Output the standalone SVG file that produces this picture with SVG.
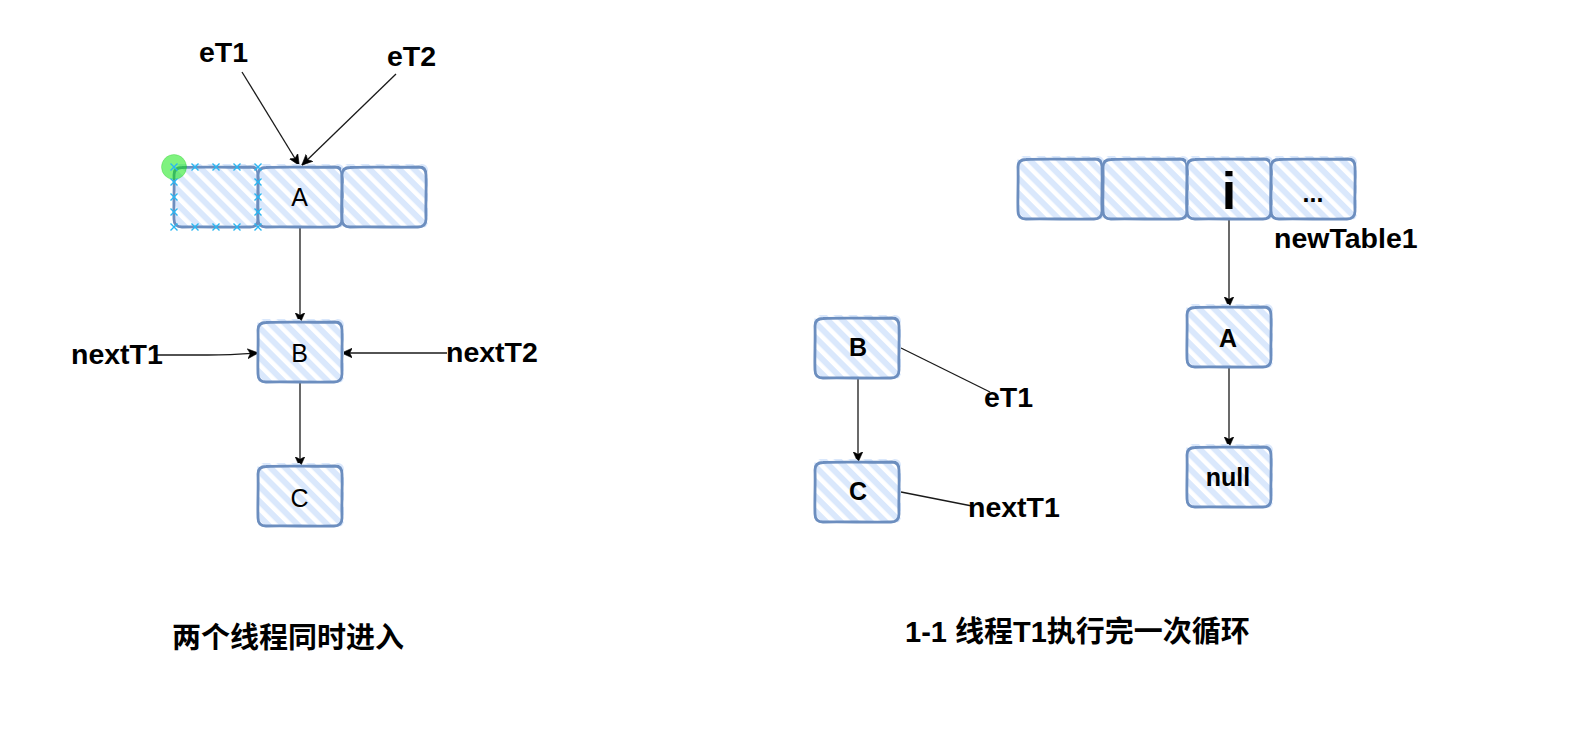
<svg xmlns="http://www.w3.org/2000/svg" xmlns:xlink="http://www.w3.org/1999/xlink" width="1578" height="755" viewBox="0 0 1578 755">
<style>
.f{fill:url(#hatch);stroke:none}
.b{fill:none;stroke:#6c8ebf;stroke-width:2.8;stroke-linejoin:round;stroke-linecap:round}
.c{fill:none;stroke:#1a1a1a;stroke-width:1.3;marker-end:url(#arr)}
.l{fill:none;stroke:#1a1a1a;stroke-width:1.3}
text{font-family:"Liberation Sans","Noto Sans CJK SC",sans-serif;fill:#000}
.n{font-size:25px;text-anchor:middle}
.nb{font-size:25px;font-weight:700;text-anchor:middle}
.t{font-size:28.500px;font-weight:700}
.cap{font-size:29px;font-weight:700}
.x{fill:none;stroke:#29b6f2;stroke-width:1.4}
</style>
<defs>
<pattern id="hatch" width="10.500" height="10.500" patternUnits="userSpaceOnUse" patternTransform="rotate(45)">
<rect x="0" y="0" width="10.500" height="6" fill="#dae8fc"/>
</pattern>
<marker id="arr" viewBox="0 0 10 10" refX="9.500" refY="5" markerWidth="11" markerHeight="11" markerUnits="userSpaceOnUse" orient="auto">
<path d="M0 0.500 L10 5 L0 9.500 L2.500 5 Z" fill="#000" stroke="#000" stroke-width="0.500"/>
</marker>
<g id="box">
<rect class="f" x="-1" y="-3" width="87" height="64" rx="6"/>
<path class="b" d="M8 0.500 C30 -0.500 55 0.800 77 0 Q84 0 84 8 C84.500 22 83.500 38 84 52 Q84 60 76 60 C55 60.500 28 59.500 8 60 Q0 60 0 52 C-0.500 38 0.500 22 0 8 Q0 0.500 8 0.500 Z"/>
</g>
<path id="xm" class="x" d="M-3.500 -3.500 L3.500 3.500 M-3.500 3.500 L3.500 -3.500"/>
</defs>
<rect width="1578" height="755" fill="#fff"/>
<g id="connectors">
<path class="c" d="M242 72 L299 165"/>
<path class="c" d="M396 74 L302 165"/>
<path class="c" d="M300 227 L300 323"/>
<path class="c" d="M155 355 L208 355 Q230 355 258 353"/>
<path class="c" d="M447 353 L342 353"/>
<path class="c" d="M300 382 L300 467"/>
<path class="c" d="M1229 219 L1229 307"/>
<path class="c" d="M1229 367 L1229 447"/>
<path class="c" d="M858 378 L858 462"/>
<path class="l" d="M901 348 L990 392"/>
<path class="l" d="M901 492 L972 506"/>
</g>
<g id="node-left-1"><use href="#box" x="174" y="167"/></g>
<g id="node-A"><use href="#box" x="258" y="167"/><text class="n" x="299.500" y="206">A</text></g>
<g id="node-left-3"><use href="#box" x="342" y="167"/></g>
<g id="node-B"><use href="#box" x="258" y="322"/><text class="n" x="299.500" y="362">B</text></g>
<g id="node-C"><use href="#box" x="258" y="466"/><text class="n" x="299.500" y="507">C</text></g>
<g id="selection">
<circle cx="174" cy="167" r="12.500" fill="#00e600" fill-opacity="0.5" stroke="#00c000" stroke-opacity="0.25"/>
<use href="#xm" x="174" y="167"/><use href="#xm" x="195" y="167"/><use href="#xm" x="216" y="167"/><use href="#xm" x="237" y="167"/><use href="#xm" x="258" y="167"/>
<use href="#xm" x="174" y="227"/><use href="#xm" x="195" y="227"/><use href="#xm" x="216" y="227"/><use href="#xm" x="237" y="227"/><use href="#xm" x="258" y="227"/>
<use href="#xm" x="174" y="182"/><use href="#xm" x="174" y="197"/><use href="#xm" x="174" y="212"/>
<use href="#xm" x="258" y="182"/><use href="#xm" x="258" y="197"/><use href="#xm" x="258" y="212"/>
</g>
<g id="node-r1"><use href="#box" x="1018" y="159"/></g>
<g id="node-r2"><use href="#box" x="1103" y="159"/></g>
<g id="node-i"><use href="#box" x="1187" y="159"/><text x="1229" y="209" font-size="52" font-weight="700" text-anchor="middle">i</text></g>
<g id="node-dots"><use href="#box" x="1271" y="159"/><text class="nb" x="1313" y="202">...</text></g>
<g id="node-A2"><use href="#box" x="1187" y="307"/><text class="nb" x="1228" y="347">A</text></g>
<g id="node-null"><use href="#box" x="1187" y="447"/><text class="nb" x="1228" y="486">null</text></g>
<g id="node-B2"><use href="#box" x="815" y="318"/><text class="nb" x="858" y="356">B</text></g>
<g id="node-C2"><use href="#box" x="815" y="462"/><text class="nb" x="858" y="500">C</text></g>
<g id="labels">
<text class="t" x="199" y="62">eT1</text>
<text class="t" x="387" y="66">eT2</text>
<text class="t" x="71" y="364">nextT1</text>
<text class="t" x="446" y="362">nextT2</text>
<text class="t" x="1274" y="248">newTable1</text>
<text class="t" x="984" y="407">eT1</text>
<text class="t" x="968" y="517">nextT1</text>
<text class="cap" x="172" y="648">两个线程同时进入</text>
<text class="cap" x="905" y="642">1-1 线程T1执行完一次循环</text>
</g>
</svg>
